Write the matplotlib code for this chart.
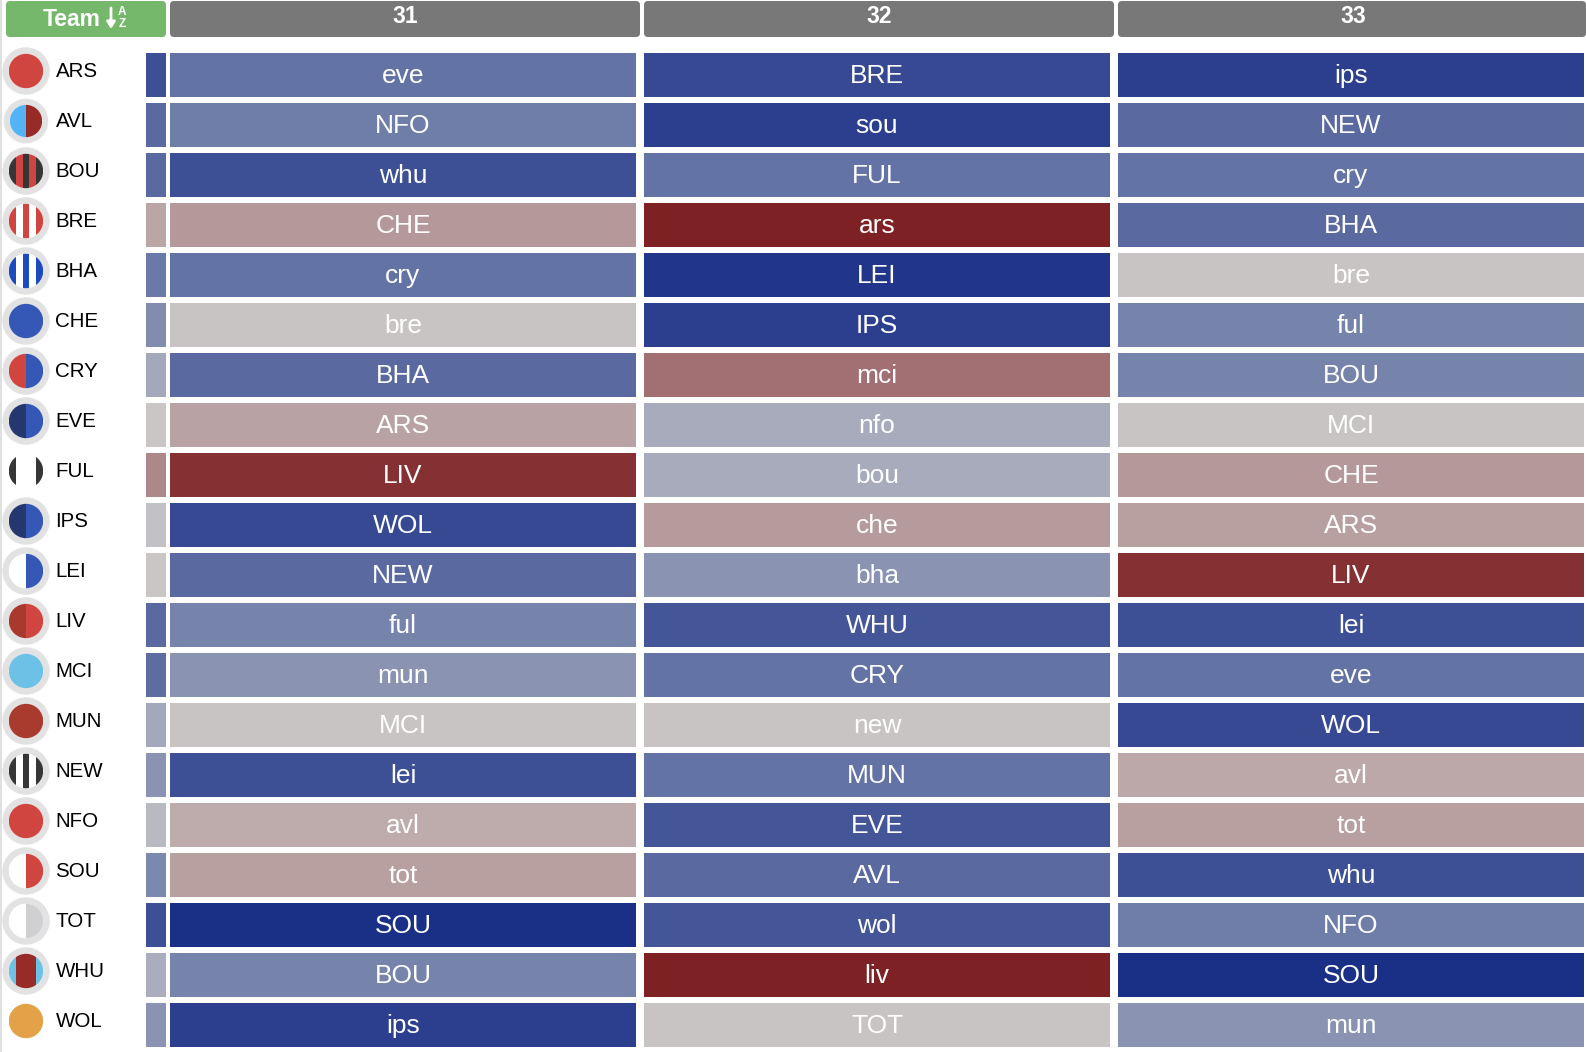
import matplotlib
matplotlib.use('Agg')
import matplotlib.pyplot as plt
from matplotlib.colors import LinearSegmentedColormap
from matplotlib.patches import Circle, FancyBboxPatch, Rectangle

plt.rcParams['font.family'] = ['Liberation Sans', 'DejaVu Sans']

teams = ['ARS', 'AVL', 'BOU', 'BRE', 'BHA', 'CHE', 'CRY', 'EVE', 'FUL', 'IPS',
         'LEI', 'LIV', 'MCI', 'MUN', 'NEW', 'NFO', 'SOU', 'TOT', 'WHU', 'WOL']
gameweeks = ['31', '32', '33']

# fixture difficulty, 0 = easiest (blue), 100 = hardest (red)
avg_score = [10, 18, 18, 60, 23, 29, 39, 50, 69, 48, 50, 18, 19, 39, 32, 45, 28, 10, 41, 32]

gw31_opp = ['eve', 'NFO', 'whu', 'CHE', 'cry', 'bre', 'BHA', 'ARS', 'LIV', 'WOL',
            'NEW', 'ful', 'mun', 'MCI', 'lei', 'avl', 'tot', 'SOU', 'BOU', 'ips']
gw31_score = [21, 24, 10, 64, 21, 51, 18, 61, 95, 8, 18, 26, 32, 51, 10, 58, 62, 0, 26, 5]

gw32_opp = ['BRE', 'sou', 'FUL', 'ars', 'LEI', 'IPS', 'mci', 'nfo', 'bou', 'che',
            'bha', 'WHU', 'CRY', 'new', 'MUN', 'EVE', 'AVL', 'wol', 'liv', 'TOT']
gw32_score = [8, 5, 21, 100, 2, 5, 76, 40, 40, 63, 32, 12, 21, 51, 21, 12, 18, 12, 100, 51]

gw33_opp = ['ips', 'NEW', 'cry', 'BHA', 'bre', 'ful', 'BOU', 'MCI', 'CHE', 'ARS',
            'LIV', 'lei', 'eve', 'WOL', 'avl', 'tot', 'whu', 'NFO', 'SOU', 'mun']
gw33_score = [5, 18, 21, 18, 51, 26, 26, 51, 64, 62, 95, 10, 21, 8, 59, 62, 10, 24, 0, 32]

RED = '#d0453f'
DRED = '#962b27'
BLUE = '#3557b5'
NAVY = '#26366f'
DARK = '#363636'
SKY = '#6dc0e6'
WHITE = '#ffffff'

# shirt bands left to right, equal width unless given as (width, colour)
kits = {
    'ARS': [RED],
    'AVL': ['#53b4f5', DRED],
    'BOU': [DARK, RED, DARK, RED, DARK],
    'BRE': [RED, WHITE, RED, WHITE, RED],
    'BHA': ['#1b4bbf', WHITE, '#1b4bbf', WHITE, '#1b4bbf'],
    'CHE': [BLUE],
    'CRY': [RED, BLUE],
    'EVE': [NAVY, BLUE],
    'FUL': [(0.2, DARK), (0.6, WHITE), (0.2, DARK)],
    'IPS': [NAVY, BLUE],
    'LEI': [WHITE, BLUE],
    'LIV': ['#a73a2c', RED],
    'MCI': [SKY],
    'MUN': ['#a93a2e'],
    'NEW': [DARK, WHITE, DARK, WHITE, DARK],
    'NFO': [RED],
    'SOU': [WHITE, RED],
    'TOT': [WHITE, '#d0d0d3'],
    'WHU': [(0.2, SKY), (0.6, DRED), (0.2, SKY)],
    'WOL': ['#e3a247'],
}
no_ring = ['FUL', 'WOL']
small_badge = ['AVL']

cmap = LinearSegmentedColormap.from_list(
    'fdr', [(0, '#1a3087'), (0.26, '#7684ac'), (0.5, '#cac7c7'), (1, '#7e2124')])

W, H = 1586, 1052
ROW_TOP, ROW_STEP, ROW_H = 53, 50, 44
COL_LEFT, COL_STEP, COL_W = 170, 474, 466

fig = plt.figure(figsize=(W / 100, H / 100), dpi=100)
ax = fig.add_axes([0, 0, 1, 1])
ax.set_xlim(0, W)
ax.set_ylim(H, 0)
ax.axis('off')

ax.add_patch(Rectangle((0, 0), 2, H, color='#e0e0e0', lw=0))


def header(x, w, color):
    ax.add_patch(FancyBboxPatch((x + 3, 4), w - 6, 30, boxstyle='round,pad=3,rounding_size=4',
                                fc=color, ec='none'))


header(6, 160, '#75b86b')
ax.text(72, 20, 'Team', color='white', fontsize=16.5, fontweight='bold', ha='center', va='center')
ax.annotate('', xy=(111, 29), xytext=(111, 8),
            arrowprops=dict(arrowstyle='-|>,head_width=0.25,head_length=0.4', color='white',
                            lw=2, shrinkA=0, shrinkB=0))
ax.text(122, 12, 'A', color='white', fontsize=8.5, fontweight='bold', ha='center', va='center')
ax.text(122, 24, 'Z', color='white', fontsize=8.5, fontweight='bold', ha='center', va='center')

for j, gw in enumerate(gameweeks):
    header(COL_LEFT + j * COL_STEP, 470 if j < 2 else 468, '#787878')
    ax.text(COL_LEFT + j * COL_STEP + 235, 16.5, gw, color='white', fontsize=16.5, fontweight='bold',
            ha='center', va='center')

columns = [(gw31_opp, gw31_score), (gw32_opp, gw32_score), (gw33_opp, gw33_score)]

for i, team in enumerate(teams):
    y = ROW_TOP + i * ROW_STEP
    cy = y + 18

    # badge
    scale = 0.94 if team in small_badge else 1
    rad = 17.2 * scale
    if team not in no_ring:
        ax.add_patch(Circle((26, cy), 23.7 * scale, fc='#e2e2e2', ec='none'))
        ax.add_patch(Circle((26, cy), rad, fc='white', ec='none'))
    clip = Circle((26, cy), rad, transform=ax.transData)
    bands = kits[team]
    x = 26 - rad
    for band in bands:
        if isinstance(band, tuple):
            frac, col = band
        else:
            frac, col = 1 / len(bands), band
        r = Rectangle((x, cy - 18), frac * 2 * rad, 36, fc=col, ec='none')
        ax.add_patch(r)
        r.set_clip_path(clip)
        x += frac * 2 * rad

    ax.text(55.5, cy + 0.2, team, color='black', fontsize=14.8, ha='left', va='center')

    # average box
    ax.add_patch(Rectangle((146, y), 20, ROW_H, fc=cmap(avg_score[i] / 100), ec='none'))

    # fixture cells
    for j, (opp, score) in enumerate(columns):
        x0 = COL_LEFT + j * COL_STEP
        ax.add_patch(Rectangle((x0, y), COL_W, ROW_H, fc=cmap(score[i] / 100), ec='none'))
        ax.text(x0 + COL_W / 2, y + 23, opp[i], color='white', fontsize=19,
                ha='center', va='center')

fig.savefig('out.png', dpi=100)
